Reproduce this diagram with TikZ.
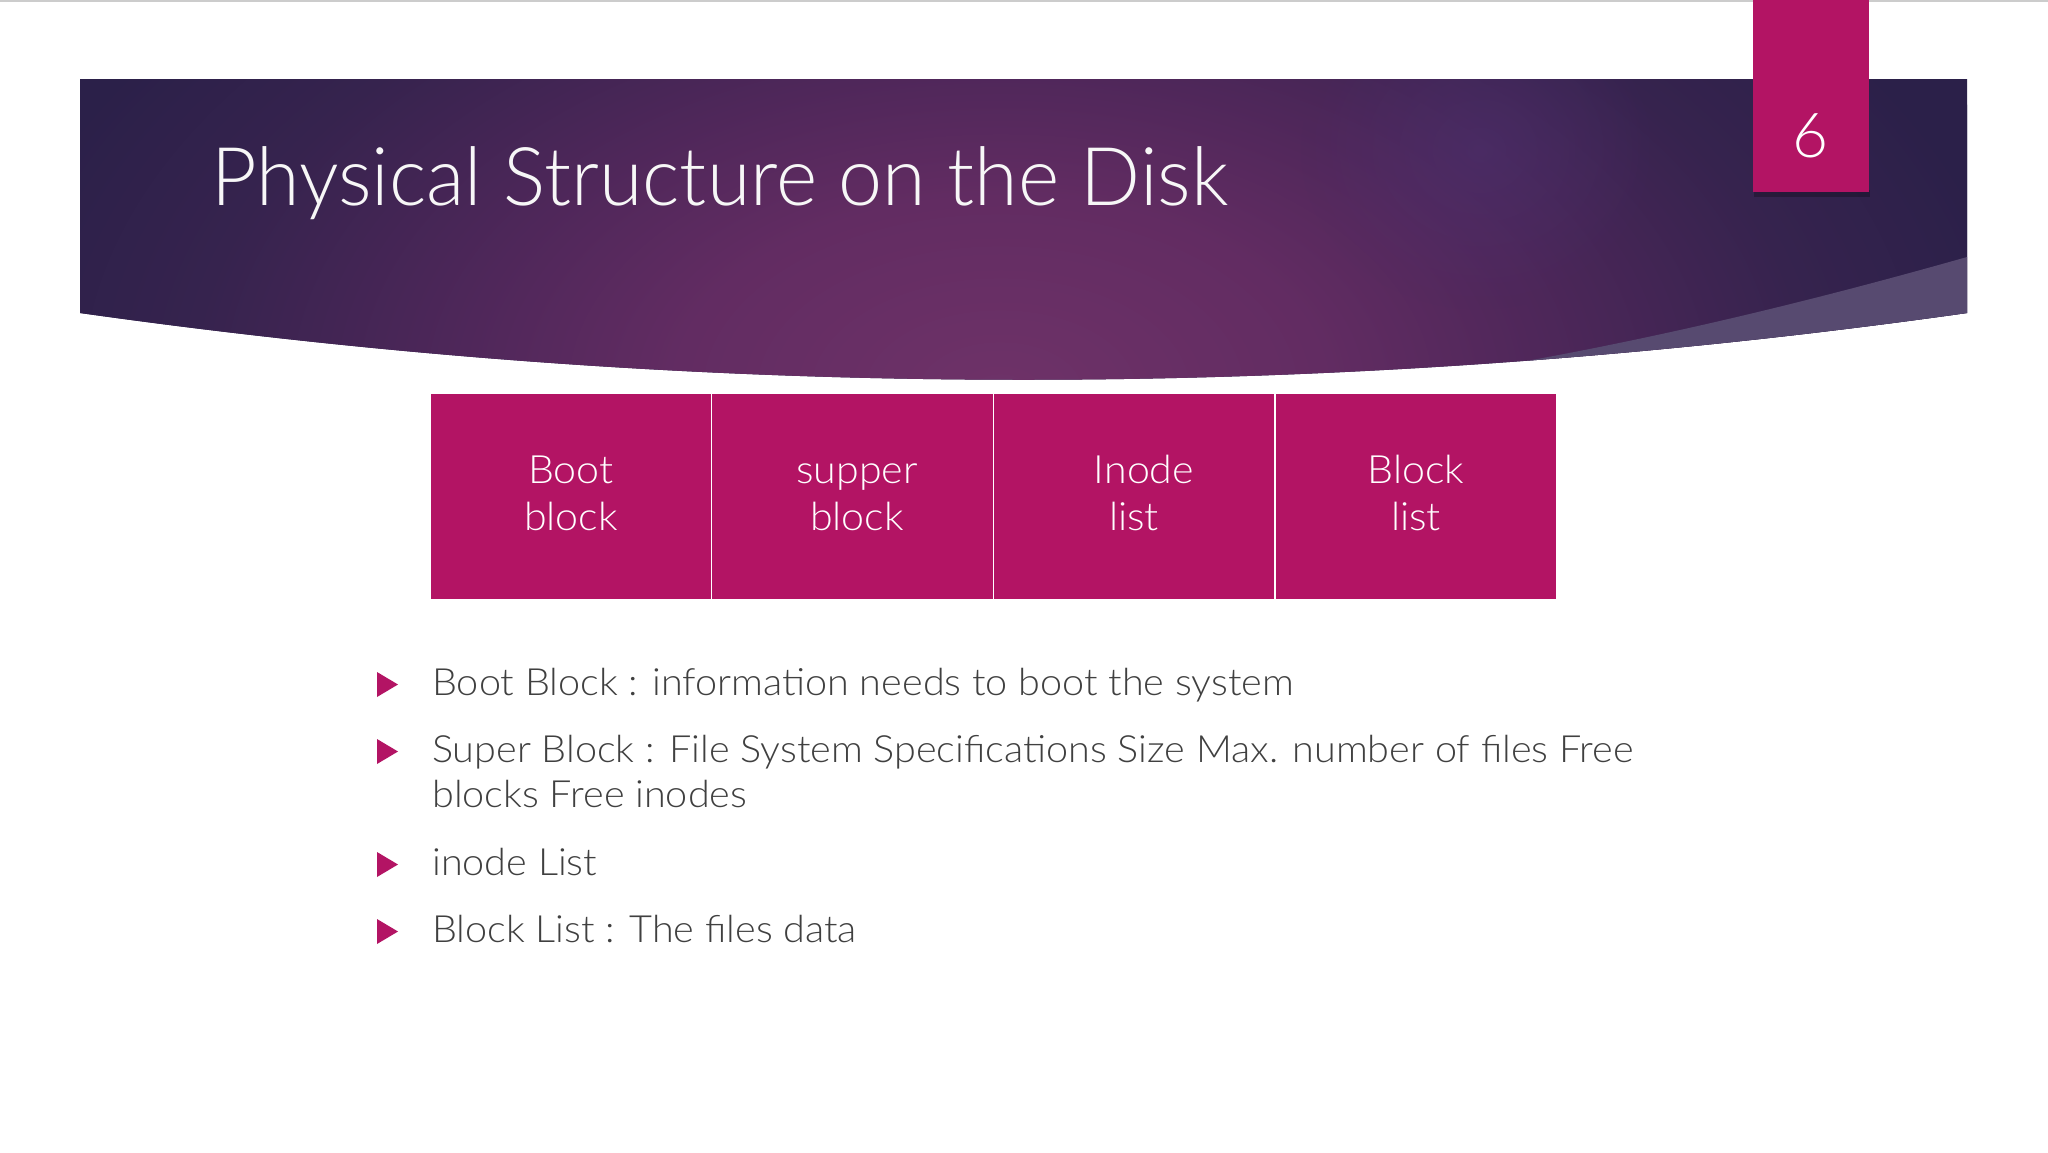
\documentclass[tikz,border=0pt]{standalone}
\usepackage{fontspec}
\newfontfamily\lt{Lato Light}[FakeStretch=1.055]
\newfontfamily\lttitle{Lato Light}[FakeStretch=0.975]
\newfontfamily\ltnum{Lato Light}
\usetikzlibrary{fadings}
\definecolor{mag}{HTML}{B31464}
\definecolor{bandark}{HTML}{2B2049}
\definecolor{wedgec}{HTML}{574A70}
\definecolor{txt}{HTML}{404040}
\definecolor{gA}{HTML}{6E3268}
\definecolor{gB}{HTML}{622C62}
\definecolor{gC}{HTML}{4F275A}
\definecolor{gD}{HTML}{36234E}
\definecolor{glowD}{HTML}{4E3274}
\pgfdeclareradialshading{bannerglow}{\pgfpoint{0bp}{0bp}}{color(0bp)=(gA); color(7.5bp)=(gB); color(12.5bp)=(gC); color(18.75bp)=(gD); color(23.75bp)=(bandark); color(50bp)=(bandark)}
\tikzfading[name=softglow, inner color=transparent!55, outer color=transparent!100]
\tikzset{
  cell/.style={rectangle, fill=mag, draw=white, line width=1.5pt, minimum width=281.75pt, minimum height=207pt, inner sep=0pt},
  celltxt/.style={anchor=base, inner sep=0pt, text=white, font=\lt\fontsize{39}{47}\selectfont},
  btxt/.style={anchor=base west, inner sep=0pt, text=txt, font=\lt\fontsize{37.5}{45}\selectfont},
  bul/.style={fill=mag}
}
\begin{document}
\begin{tikzpicture}[x=1pt,y=-1pt]
\useasboundingbox (0,0) rectangle (2048,1152);
\fill[white] (0,0) rectangle (2048,1152);
\fill[gray!40] (0,0) rectangle (2048,2);
% banner
\begin{scope}
\clip (80,79) -- (1967,79) -- (1967,313) .. controls (1337,402) and (710,402) .. (80,313) -- cycle;
\fill[bandark] (70,70) rectangle (1980,420);
\shade[shading=bannerglow] (1000,390) ellipse [x radius=1080, y radius=640];
\fill[glowD, path fading=softglow, fit fading=true] (1480,150) ellipse [x radius=180, y radius=160];
\fill[wedgec] (1967,257) .. controls (1780,310) and (1600,352) .. (1400,382) -- (1400,430) -- (1967,430) -- cycle;
\end{scope}
\node[anchor=base west, inner sep=0pt, text=white!94!gray, font=\lttitle\fontsize{81}{97}\selectfont] (title) at (211,205) {Physical Structure on the Disk};
% page number
\fill[black, opacity=0.25] (1754,190) rectangle (1870,197);
\node[fill=mag, minimum width=116pt, minimum height=192pt, inner sep=0pt, anchor=north west] (pg) at (1753,0) {};
\node[anchor=base, inner sep=0pt, text=white, font=\ltnum\fontsize{62}{70}\selectfont] (pn) at (1810,157) {6};
% blocks
\node[cell] (c1) at (570.9,496.5) {};
\node[cell] (c2) at (852.6,496.5) {};
\node[cell] (c3) at (1134.4,496.5) {};
\node[cell] (c4) at (1416.1,496.5) {};
\node[celltxt] (c1a) at (570.9,483) {Boot};
\node[celltxt] (c1b) at (570.9,530) {block};
\node[celltxt] (c2a) at (857,483) {supper};
\node[celltxt] (c2b) at (857,530) {block};
\node[celltxt] (c3a) at (1144,483) {Inode};
\node[celltxt] (c3b) at (1134,530) {list};
\node[celltxt] (c4a) at (1416,483) {Block};
\node[celltxt] (c4b) at (1416,530) {list};
% bullets
\foreach \yb in {695,762,875,942}{
  \fill[bul] (377,\yb-23) -- (377,\yb+2) -- (398,\yb-10.5) -- cycle;
}
\node[btxt] (t1) at (432,695) {Boot Block : information needs to boot the system};
\node[btxt] (t2) at (432,762) {Super Block : File System Specifications Size Max. number of files Free};
\node[btxt] (t2b) at (432,807) {blocks Free inodes};
\node[btxt] (t3) at (432,875) {inode List};
\node[btxt] (t4) at (432,942) {Block List : The files data};
\end{tikzpicture}
\end{document}
